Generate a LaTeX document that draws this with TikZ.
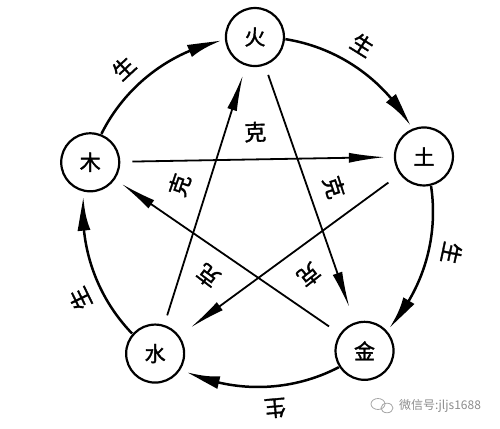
\documentclass[tikz,border=0pt]{standalone}
\usepackage{fontspec}
\newfontfamily\cjk[FakeBold=1.5]{Noto Sans CJK SC}
\newfontfamily\cjkwm{Noto Sans CJK SC}
\usetikzlibrary{arrows.meta,bending}
\begin{document}
\begin{tikzpicture}[x=1pt,y=1pt,
  elem/.style={circle,draw,line width=2.2pt,minimum size=58pt,inner sep=0pt,
    font=\cjk\fontsize{21}{21}\selectfont},
  sheng/.style={line width=2.5pt,-{Latex[length=34pt,width=13pt,bend]}},
  ke/.style={line width=1.8pt,-{Latex[length=36pt,width=10pt]}},
  lbl/.style={font=\cjk\fontsize{22}{22}\selectfont,inner sep=0pt},
  wmark/.style={font=\cjkwm\fontsize{12}{12}\selectfont,text=black!45,inner sep=0pt,anchor=west},
]
\useasboundingbox (0,0) rectangle (500,428);
\coordinate (C) at (258,216);
% elements
\node[elem] (huo) at ([shift={(C)}]91:175) {火};
\node[elem] (tu)  at ([shift={(C)}]18.5:175) {土};
\node[elem] (jin) at ([shift={(C)}]-52.5:175) {金};
\node[elem] (shui) at ([shift={(C)}]-126:175) {水};
\node[elem] (mu)  at ([shift={(C)}]163.5:175) {木};
% sheng arcs (generating cycle)
\coordinate (a1) at ([shift={(C)}]153.5:175);
\coordinate (a2) at ([shift={(C)}]81:175);
\coordinate (a3) at ([shift={(C)}]8.5:175);
\coordinate (a4) at ([shift={(C)}]-62.5:175);
\coordinate (a5) at ([shift={(C)}]-136:175);
\draw[sheng] (a1) arc[start angle=153.5,end angle=102,radius=175];
\draw[sheng] (a2) arc[start angle=81,end angle=29.5,radius=175];
\draw[sheng] (a3) arc[start angle=8.5,end angle=-41.5,radius=175];
\draw[sheng] (a4) arc[start angle=-62.5,end angle=-114,radius=175];
\draw[sheng] (a5) arc[start angle=-136,end angle=-185,radius=175];
% sheng labels
\node[lbl,rotate=43]   (s1) at ([shift={(C)}]133:197) {生};
\node[lbl,rotate=-32]  (s2) at ([shift={(C)}]58:197) {生};
\node[lbl,rotate=-102] (s3) at ([shift={(C)}]-12:198) {生};
\node[lbl,rotate=-175] (s4) at ([shift={(C)}]-85:197) {生};
\node[lbl,rotate=116]  (s5) at ([shift={(C)}]-154:198) {生};
% ke lines (controlling cycle)
\draw[ke,shorten <=12pt,shorten >=9pt]  (mu) -- (tu);
\draw[ke,shorten <=14pt,shorten >=14pt] (tu) -- (shui);
\draw[ke,shorten <=10pt,shorten >=10pt] (shui) -- (huo);
\draw[ke,shorten <=10pt,shorten >=16pt] (huo) -- (jin);
\draw[ke,shorten <=13pt,shorten >=8pt]  (jin) -- (mu);
% ke labels
\node[lbl,rotate=2]    (k1) at ([shift={(C)}]92:80) {克};
\node[lbl,rotate=-72]  (k2) at ([shift={(C)}]18:80) {克};
\node[lbl,rotate=-142] (k3) at ([shift={(C)}]-51:81) {克};
\node[lbl,rotate=143]  (k4) at ([shift={(C)}]-128:81) {克};
\node[lbl,rotate=71]   (k5) at ([shift={(C)}]161:83) {克};
% watermark
\draw[black!35,line width=0.8pt] (378,24) ellipse (7 and 5.5);
\draw[black!35,line width=0.8pt] (387,20) ellipse (6 and 4.8);
\node[wmark] (wm) at (399,22) {微信号:jljs1688};
\end{tikzpicture}
\end{document}
